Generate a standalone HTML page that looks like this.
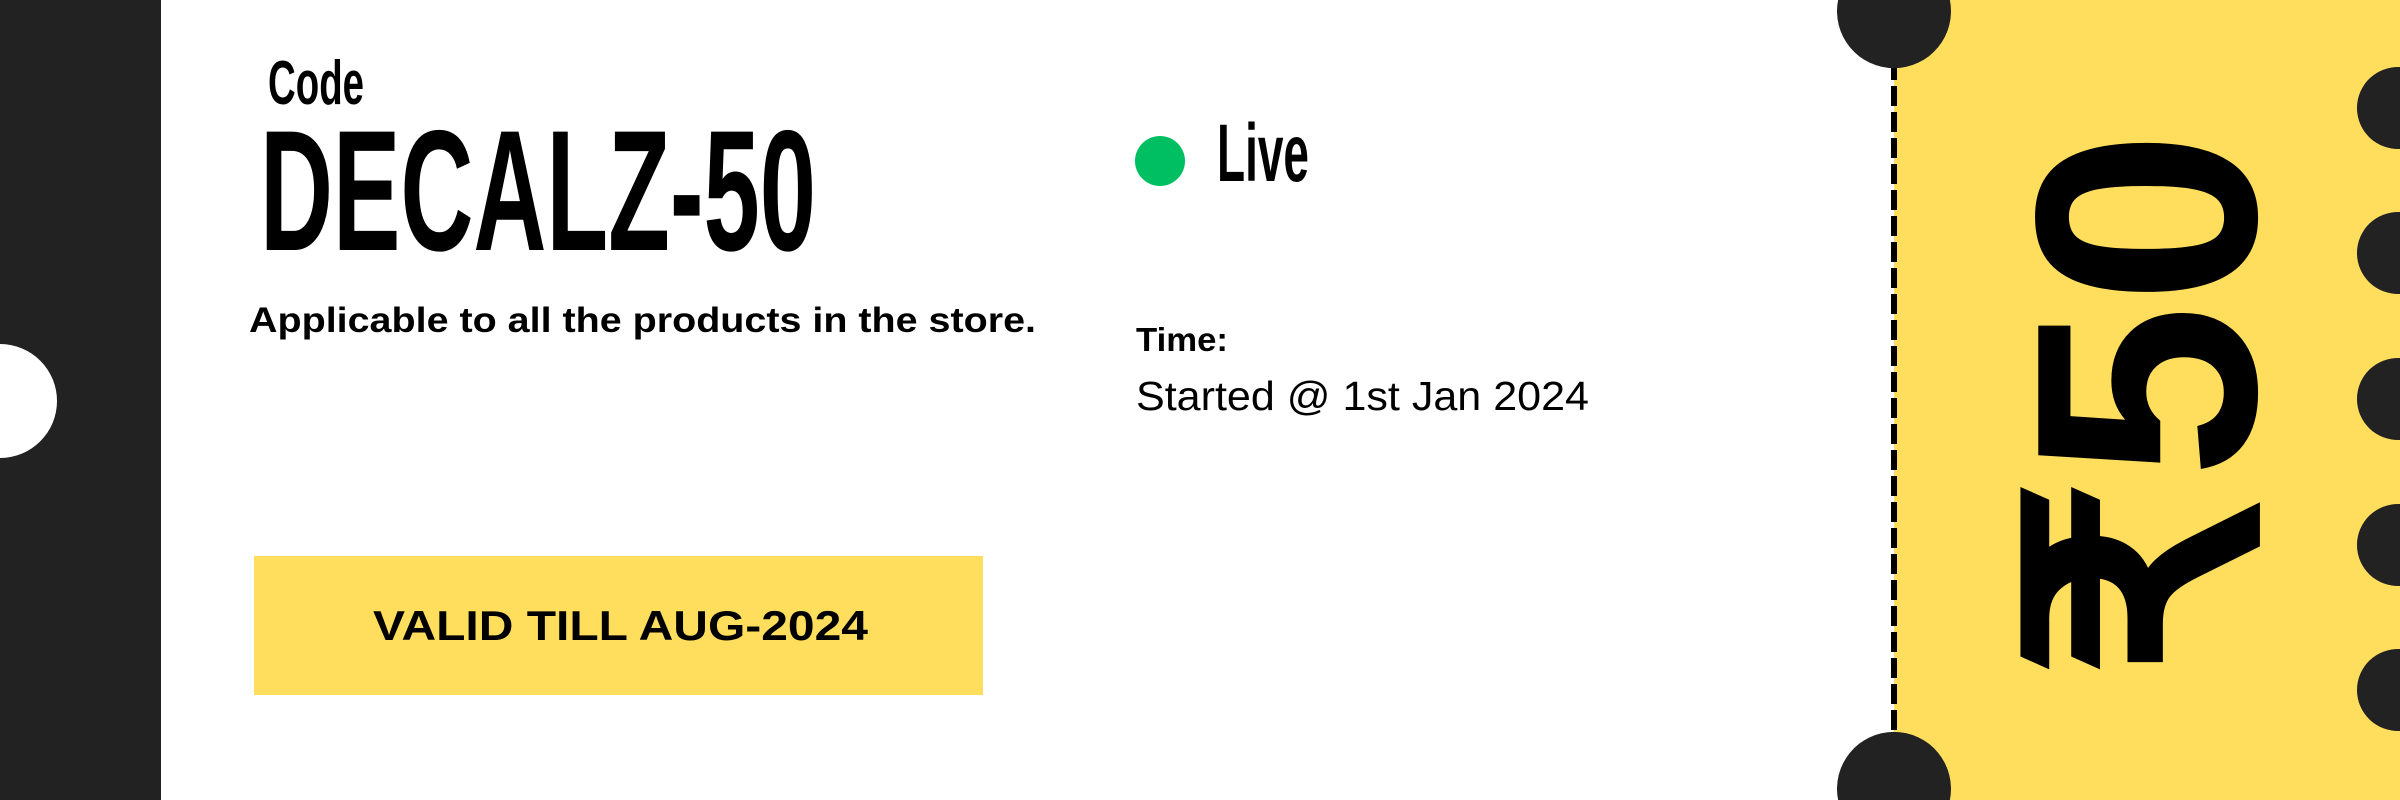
<!DOCTYPE html>
<html><head><meta charset="utf-8"><style>html,body{margin:0;padding:0;background:#fff;width:2400px;height:800px;overflow:hidden}svg{display:block}</style></head>
<body>
<svg width="2400" height="800" viewBox="0 0 2400 800" xmlns="http://www.w3.org/2000/svg">
<rect x="0" y="0" width="2400" height="800" fill="#fff"/>
<rect x="0" y="0" width="161" height="800" fill="#222"/>
<path d="M0 344 A57 57 0 0 1 0 458 Z" fill="#fff"/>
<rect x="1894" y="0" width="506" height="800" fill="#FEDE5C"/>
<line x1="1894" y1="60" x2="1894" y2="740" stroke="#000" stroke-width="6" stroke-dasharray="20,6"/>
<path d="M1949.9 0 A57 57 0 1 1 1838.1 0 Z" fill="#222"/>
<path d="M1838.1 800 A57 57 0 1 1 1949.9 800 Z" fill="#222"/>
<g fill="#222">
<path d="M2400 67.05 A41 41 0 1 0 2400 148.95 Z"/>
<path d="M2400 212.05 A41 41 0 1 0 2400 293.95 Z"/>
<path d="M2400 358.05 A41 41 0 1 0 2400 439.95 Z"/>
<path d="M2400 504.05 A41 41 0 1 0 2400 585.95 Z"/>
<path d="M2400 649.05 A41 41 0 1 0 2400 730.95 Z"/>
</g>
<g font-family="Liberation Sans, sans-serif" fill="#000">
<text x="268" y="104" font-size="62" font-weight="bold" textLength="96" lengthAdjust="spacingAndGlyphs">Code</text>
<text x="260" y="250" font-size="172" font-weight="bold" textLength="556" lengthAdjust="spacingAndGlyphs">DECALZ-50</text>
<text x="249" y="332" font-size="35" font-weight="bold" textLength="787" lengthAdjust="spacingAndGlyphs">Applicable to all the products in the store.</text>
<rect x="254" y="556" width="729" height="139" fill="#FEDE5C"/>
<text x="373" y="640" font-size="42" font-weight="bold" textLength="495" lengthAdjust="spacingAndGlyphs">VALID TILL AUG-2024</text>
<circle cx="1160" cy="161" r="25" fill="#00BF63"/>
<text x="1217" y="181" font-size="82" font-weight="bold" textLength="92" lengthAdjust="spacingAndGlyphs">Live</text>
<text x="1136" y="351" font-size="33" font-weight="bold" textLength="92" lengthAdjust="spacingAndGlyphs">Time:</text>
<text x="1136" y="410" font-size="41" textLength="453" lengthAdjust="spacingAndGlyphs">Started @ 1st Jan 2024</text>
<g transform="translate(2143,404) rotate(-90)">
<text x="0" y="112" font-size="315" font-weight="bold" text-anchor="middle" textLength="548" lengthAdjust="spacingAndGlyphs">₹50</text>
</g>
</g>
</svg>
</body></html>
